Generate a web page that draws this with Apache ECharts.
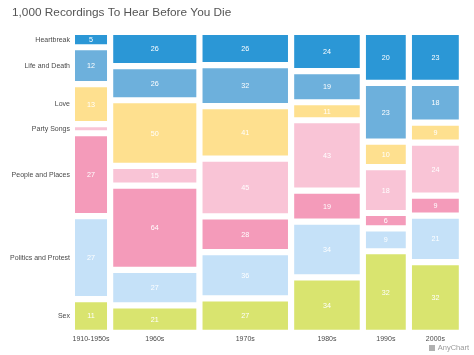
<!DOCTYPE html>
<html>
<head>
<meta charset="utf-8">
<script src="https://cdn.jsdelivr.net/npm/echarts@6/dist/echarts.min.js"></script>
<style>
html,body{margin:0;padding:0;background:#fff;}
#chart{width:474px;height:355px;}
</style>
</head>
<body>
<div id="chart"></div>
<script>
const categories = ['1910-1950s', '1960s', '1970s', '1980s', '1990s', '2000s'];
const topics = ['Heartbreak', 'Life and Death', 'Love', 'Party Songs', 'People and Places', 'Politics and Protest', 'Sex'];
const heartbreak = [5, 26, 26, 24, 20, 23];
const lifeAndDeath = [12, 26, 32, 19, 23, 18];
const love = [13, 50, 41, 11, 10, 9];
const partySongs = [3, 15, 45, 43, 18, 24];
const peopleAndPlaces = [27, 64, 28, 19, 6, 9];
const politicsAndProtest = [27, 27, 36, 34, 9, 21];
const sex = [11, 21, 27, 34, 32, 32];

const values = [heartbreak, lifeAndDeath, love, partySongs, peopleAndPlaces, politicsAndProtest, sex];
const colors = ['#2b97d6', '#6db0dc', '#fee08f', '#f9c4d6', '#f49bba', '#c5e1f8', '#d9e46f'];

const totals = categories.map((c, ci) => values.reduce((s, arr) => s + arr[ci], 0));
const xStarts = [];
let acc = 0;
totals.forEach(t => { xStarts.push(acc); acc += t; });
const grand = acc;
const GAP = 6.2;
const FONT = 'Arial, "Liberation Sans", sans-serif';

function txt(text, x, y, align, vAlign, fill, size) {
  return {
    type: 'text',
    style: {
      text: text, x: x, y: y,
      align: align, verticalAlign: vAlign,
      textAlign: align, textVerticalAlign: vAlign,
      fill: fill, fontSize: size, fontFamily: FONT
    },
    z2: 10
  };
}

const series = topics.map((topic, ti) => ({
  type: 'custom',
  name: topic,
  coordinateSystem: 'cartesian2d',
  clip: false,
  data: categories.map((c, ci) => [ci, values[ti][ci]]),
  renderItem: function (params, api) {
    const ci = api.value(0);
    const v = api.value(1);
    let yStart = 0;
    for (let k = 0; k < ti; k++) yStart += values[k][ci];
    const x0 = xStarts[ci], x1 = xStarts[ci] + totals[ci];
    const p0 = api.coord([x0, yStart / totals[ci] * 100]);
    const p1 = api.coord([x1, (yStart + v) / totals[ci] * 100]);
    const w = p1[0] - p0[0] - GAP;
    const h = Math.max(p1[1] - p0[1] - GAP, 1);
    const children = [{
      type: 'rect',
      shape: { x: p0[0], y: p0[1], width: w, height: h },
      style: { fill: colors[ti] }
    }];
    const cx = p0[0] + w / 2, cy = p0[1] + h / 2;
    if (h >= 8) children.push(txt(String(v), cx, cy + 0.5, 'center', 'middle', '#ffffff', 7.2));
    if (ci === 0) children.push(txt(topic, p0[0] - 5, cy, 'right', 'middle', '#4a4a4a', 7));
    if (ti === topics.length - 1) children.push(txt(categories[ci], cx, p1[1] + 3.5, 'center', 'middle', '#4a4a4a', 7));
    return { type: 'group', children: children };
  }
}));

const chart = echarts.init(document.getElementById('chart'), null, { renderer: 'canvas' });
chart.setOption({
  animation: false,
  title: {
    text: '1,000 Recordings To Hear Before You Die',
    left: 12, top: 7, padding: 0,
    textStyle: { fontSize: 11.8, fontWeight: 'normal', color: '#545454', fontFamily: FONT }
  },
  grid: { left: 75, top: 35, right: 9, bottom: 19 },
  xAxis: { type: 'value', min: 0, max: grand, show: false },
  yAxis: { type: 'value', min: 0, max: 100, inverse: true, show: false },
  series: series,
  graphic: [{
    type: 'text', right: 5, bottom: 3,
    style: { text: 'AnyChart', fill: '#9a9a9a', fontSize: 7.5, fontFamily: FONT }
  }, {
    type: 'rect', right: 39, bottom: 4, shape: { width: 6, height: 6 },
    style: { fill: '#b0b0b0' }
  }]
});
</script>
</body>
</html>
